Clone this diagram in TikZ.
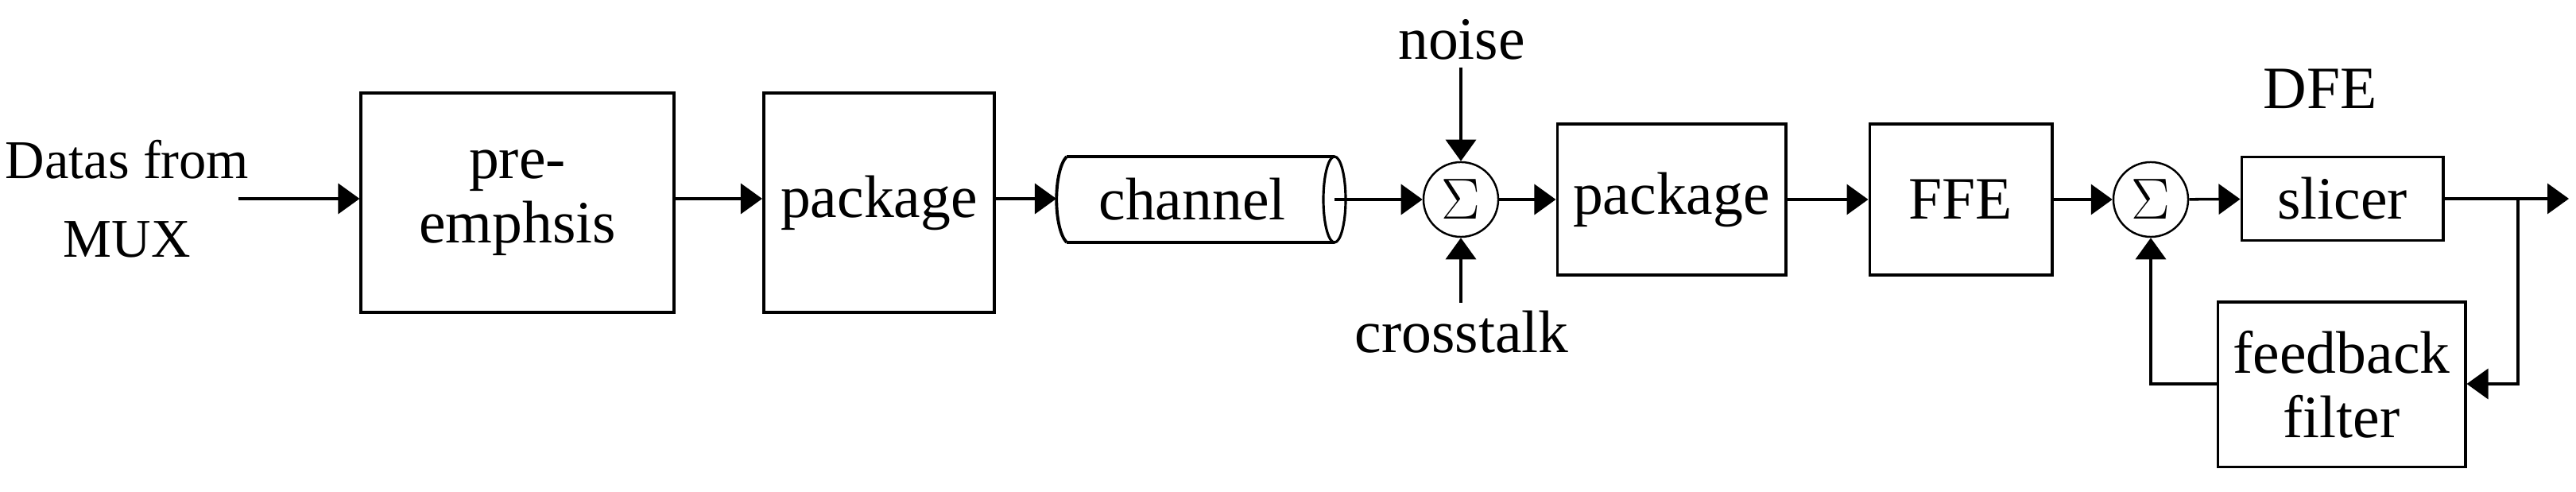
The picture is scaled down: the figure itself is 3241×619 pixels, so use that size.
\documentclass[tikz,border=0pt]{standalone}
\usepackage{fontspec}
\setmainfont{Liberation Serif}
\usetikzlibrary{arrows.meta}
\begin{document}
\begin{tikzpicture}[x=0.01cm,y=-0.01cm,
  every node/.style={font=\fontsize{21.5}{26}\selectfont},
  blk/.style={draw,line width=1.1pt,inner sep=0pt,align=center},
  sum/.style={draw,circle,line width=0.7pt,minimum size=0.94cm,inner sep=0pt},
  arr/.style={line width=1pt,-{Triangle[length=0.27cm,width=0.38cm]}},
  ln/.style={line width=1pt}]
\useasboundingbox (0,0) rectangle (3241,619);
\node[align=center,inner sep=0pt,font=\fontsize{19.5}{24}\selectfont] (in) at (160,250) {Datas from\\[4pt]MUX};
\coordinate (inS) at (300,250);
\node[blk,minimum width=3.93cm,minimum height=2.75cm] (pre) at (651,255) {pre-\\[-3pt]emphsis};
\node[blk,minimum width=2.9cm,minimum height=2.75cm] (pk1) at (1106,255) {package};
% channel
\draw[line width=1.1pt] (1342,197) -- (1679,197) (1342,305) -- (1679,305)
  (1342,197) .. controls (1325,215) and (1325,287) .. (1342,305);
\draw[line width=0.9pt] (1679,251) ellipse[x radius=14,y radius=54];
\node[minimum width=3.5cm,minimum height=1.08cm] (ch) at (1500,251) {channel};
\coordinate (chO) at (1679,251);
\node[sum] (s1) at (1838,251) {$\Sigma$};
\node (noise) at (1839,50) {noise};
\coordinate (nS) at (1838,85);
\node (xt) at (1839,418) {crosstalk};
\coordinate (xS) at (1838,381);
\node[blk,minimum width=2.87cm,minimum height=1.9cm] (pk2) at (2103,251) {package};
\node[blk,minimum width=2.29cm,minimum height=1.9cm] (ffe) at (2467,251) {FFE};
\node[sum] (s2) at (2706,251) {$\Sigma$};
\node (dfe) at (2919,112) {DFE};
\node[blk,minimum width=2.53cm,minimum height=1.05cm] (sl) at (2947,250) {slicer};
\node[blk,minimum width=3.11cm,minimum height=2.07cm] (fb) at (2946,484) {feedback\\[-3pt]filter};
\coordinate (br) at (3168,250);
\coordinate (out) at (3232,250);
\coordinate (brD) at (3168,483);
\coordinate (fbL) at (2706,483);
\draw[arr] (inS) -- (pre.west|-inS);
\draw[arr] (pre.east|-inS) -- (pk1.west|-inS);
\draw[arr] (pk1.east|-inS) -- (1329,250);
\draw[arr] (chO) -- (s1);
\draw[arr] (nS) -- (s1);
\draw[arr] (xS) -- (s1);
\draw[arr] (s1) -- (pk2);
\draw[arr] (pk2) -- (ffe);
\draw[arr] (ffe) -- (s2);
\draw[arr] (s2) -- (sl);
\draw[ln] (sl.east) -- (br);
\draw[arr] (br) -- (out);
\draw[arr] (br) -- (brD) -- (fb.east|-brD);
\draw[arr] (fb.west|-fbL) -- (fbL) -- (s2);
\end{tikzpicture}
\end{document}
